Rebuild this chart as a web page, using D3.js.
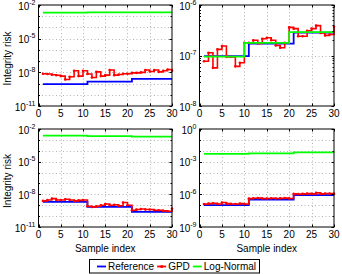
<!DOCTYPE html>
<html>
<head>
<meta charset="utf-8">
<script src="https://cdn.jsdelivr.net/npm/d3@7"></script>
<style>
  body { margin: 0; background: #fff; }
  svg { display: block; font-family: "Liberation Sans", Arial, sans-serif; }
</style>
</head>
<body>
<div id="chart"></div>
<script>
// sample index (x) and axis ticks
var sampleIdx = [1, 2, 3, 4, 5, 6, 7, 8, 9, 10, 11, 12, 13, 14, 15, 16, 17, 18, 19, 20, 21, 22, 23, 24, 25, 26, 27, 28, 29, 30];
var xTicks = [0, 5, 10, 15, 20, 25, 30];

// top left
var refTL = [9e-10, 9e-10, 9e-10, 9e-10, 9e-10, 9e-10, 9e-10, 9e-10, 9e-10, 9e-10, 1.5e-9, 1.5e-9, 1.5e-9, 1.5e-9, 1.5e-9, 1.5e-9, 1.5e-9, 1.5e-9, 1.5e-9, 1.5e-9, 2.6e-9, 2.6e-9, 2.6e-9, 2.6e-9, 2.6e-9, 2.6e-9, 2.6e-9, 2.6e-9, 2.6e-9, 2.6e-9];
var gpdTL = [7.4e-9, 7e-9, 6e-9, 5.5e-9, 4.6e-9, 2.3e-9, 4e-9, 1.4e-8, 4.6e-9, 1.4e-8, 7e-9, 3.5e-9, 1.1e-8, 4.6e-9, 5.6e-9, 1.6e-8, 5.6e-9, 6.5e-9, 7.4e-9, 7.4e-9, 9e-9, 9e-9, 1e-8, 1.6e-8, 1.2e-8, 1.6e-8, 1.1e-8, 1.4e-8, 1.8e-8, 1.4e-8];
var lnTL = [2.1e-3, 2.1e-3, 2.1e-3, 2.1e-3, 2.1e-3, 2.1e-3, 2.1e-3, 2.1e-3, 2.1e-3, 2.1e-3, 2.2e-3, 2.2e-3, 2.2e-3, 2.2e-3, 2.2e-3, 2.2e-3, 2.2e-3, 2.2e-3, 2.2e-3, 2.2e-3, 2.2e-3, 2.2e-3, 2.2e-3, 2.2e-3, 2.2e-3, 2.2e-3, 2.2e-3, 2.2e-3, 2.2e-3, 2.2e-3];

// top right
var refTR = [9.7e-8, 9.7e-8, 9.7e-8, 9.7e-8, 9.7e-8, 9.7e-8, 9.7e-8, 9.7e-8, 9.7e-8, 9.7e-8, 1.72e-7, 1.72e-7, 1.72e-7, 1.72e-7, 1.72e-7, 1.72e-7, 1.72e-7, 1.72e-7, 1.72e-7, 1.72e-7, 2.85e-7, 2.85e-7, 2.85e-7, 2.85e-7, 2.85e-7, 2.85e-7, 2.85e-7, 2.85e-7, 2.85e-7, 2.85e-7];
var gpdTR = [7.7e-8, 1.13e-7, 5.7e-8, 1.32e-7, 1.54e-7, 9.4e-8, 9.4e-8, 6.1e-8, 7.2e-8, 1.79e-7, 1.79e-7, 2.0e-7, 1.74e-7, 2.15e-7, 2.25e-7, 2.0e-7, 1.58e-7, 1.42e-7, 1.79e-7, 3.6e-7, 3.4e-7, 2.4e-7, 2.4e-7, 3.1e-7, 3.4e-7, 3.9e-7, 2.8e-7, 2.5e-7, 2.6e-7, 3.7e-7];
var lnTR = [9.5e-8, 9.5e-8, 9.5e-8, 9.5e-8, 9.5e-8, 9.5e-8, 9.5e-8, 9.5e-8, 9.5e-8, 1.78e-7, 1.78e-7, 1.78e-7, 1.78e-7, 1.78e-7, 1.78e-7, 1.78e-7, 1.78e-7, 1.78e-7, 1.78e-7, 2.9e-7, 2.9e-7, 2.9e-7, 2.9e-7, 2.9e-7, 2.9e-7, 2.9e-7, 2.9e-7, 2.9e-7, 2.9e-7, 2.9e-7];

// bottom left
var refBL = [2e-9, 2e-9, 2e-9, 2e-9, 2e-9, 2e-9, 2e-9, 2e-9, 2e-9, 2e-9, 7e-10, 7e-10, 7e-10, 7e-10, 7e-10, 7e-10, 7e-10, 7e-10, 7e-10, 7e-10, 2.5e-10, 2.5e-10, 2.5e-10, 2.5e-10, 2.5e-10, 2.5e-10, 2.5e-10, 2.5e-10, 2.5e-10, 2.5e-10];
var gpdBL = [2.5e-9, 3e-9, 4e-9, 3e-9, 3e-9, 3.5e-9, 3e-9, 2.5e-9, 2.8e-9, 3e-9, 8e-10, 7e-10, 8e-10, 1e-9, 1.3e-9, 1e-9, 1.1e-9, 9e-10, 1.8e-9, 1e-9, 3.5e-10, 4e-10, 4.5e-10, 4e-10, 4e-10, 3.5e-10, 3.5e-10, 3e-10, 2.8e-10, 5e-10];
var lnBL = [2.5e-3, 2.5e-3, 2.5e-3, 2.5e-3, 2.5e-3, 2.5e-3, 2.5e-3, 2.5e-3, 2.5e-3, 2.5e-3, 2.2e-3, 2.2e-3, 2.2e-3, 2.2e-3, 2.2e-3, 2.2e-3, 2.2e-3, 2.2e-3, 2.2e-3, 2.2e-3, 2e-3, 2e-3, 2e-3, 2e-3, 2e-3, 2e-3, 2e-3, 2e-3, 2e-3, 2e-3];

// bottom right
var refBR = [1e-7, 1e-7, 1e-7, 1e-7, 1e-7, 1e-7, 1e-7, 1e-7, 1e-7, 1e-7, 3.3e-7, 3.3e-7, 3.3e-7, 3.3e-7, 3.3e-7, 3.3e-7, 3.3e-7, 3.3e-7, 3.3e-7, 3.3e-7, 8.3e-7, 8.3e-7, 8.3e-7, 8.3e-7, 8.3e-7, 8.3e-7, 8.3e-7, 8.3e-7, 8.3e-7, 8.3e-7];
var gpdBR = [1.3e-7, 1.4e-7, 1.5e-7, 1.3e-7, 1.8e-7, 1.4e-7, 1.3e-7, 1.3e-7, 1.4e-7, 1.3e-7, 4e-7, 4.3e-7, 4.5e-7, 4.1e-7, 4.2e-7, 4.4e-7, 4.1e-7, 4.3e-7, 4.5e-7, 4.2e-7, 1.1e-6, 1.05e-6, 1.1e-6, 1.15e-6, 1.1e-6, 1.35e-6, 1.1e-6, 1.2e-6, 1.15e-6, 1.1e-6];
var lnBR = [5.1e-3, 5.1e-3, 5.1e-3, 5.1e-3, 5.1e-3, 5.1e-3, 5.1e-3, 5.1e-3, 5.1e-3, 5.1e-3, 5.8e-3, 5.8e-3, 5.8e-3, 5.8e-3, 5.8e-3, 5.8e-3, 5.8e-3, 5.8e-3, 5.8e-3, 5.8e-3, 7e-3, 7e-3, 7e-3, 7e-3, 7e-3, 7e-3, 7e-3, 7e-3, 7e-3, 7e-3];

// y tick exponents (labelled) per panel
var yLabelsTL = [-11, -8, -5, -2];
var yLabelsTR = [-8, -7, -6];
var yLabelsBL = [-11, -8, -5, -2];
var yLabelsBR = [-9, -6, -3, 0];

var seriesNames = ["Reference", "GPD", "Log-Normal"];
var seriesColors = ["#0000ff", "#ff0000", "#00ff00"];

var width = 342, height = 274;

var panels = [
  { x0: 38.5, x1: 172, y0: 5, y1: 106, ref: refTL, gpd: gpdTL, ln: lnTL, labels: yLabelsTL, ylab: true, xlab: false },
  { x0: 199.5, x1: 334, y0: 5, y1: 106, ref: refTR, gpd: gpdTR, ln: lnTR, labels: yLabelsTR, ylab: false, xlab: false },
  { x0: 38.5, x1: 172, y0: 129, y1: 227, ref: refBL, gpd: gpdBL, ln: lnBL, labels: yLabelsBL, ylab: true, xlab: true },
  { x0: 199.5, x1: 334, y0: 129, y1: 227, ref: refBR, gpd: gpdBR, ln: lnBR, labels: yLabelsBR, ylab: false, xlab: true }
];

var svg = d3
  .select("#chart")
  .append("svg")
  .attr("width", width)
  .attr("height", height)
  .attr("viewBox", [0, 0, width, height]);

panels.forEach(function (p) {
  var lo = d3.min(p.labels), hi = d3.max(p.labels);
  var x = d3.scaleLinear().domain([0, 30]).range([p.x0, p.x1]);
  var y = d3.scaleLog().domain([Math.pow(10, lo), Math.pow(10, hi)]).range([p.y1, p.y0]);
  var g = svg.append("g");

  // decades for grid / minor ticks
  var decades = d3.range(lo, hi + 1);
  var minor = [];
  if (hi - lo <= 3) {
    decades.slice(0, -1).forEach(function (e) {
      for (var m = 2; m < 10; m++) minor.push(m * Math.pow(10, e));
    });
  } else {
    decades.forEach(function (e) {
      if (p.labels.indexOf(e) < 0) minor.push(Math.pow(10, e));
    });
  }

  // grid
  g.selectAll(".hgrid")
    .data(decades.filter((e) => e !== lo && e !== hi))
    .enter()
    .append("line")
    .attr("x1", p.x0)
    .attr("x2", p.x1)
    .attr("y1", (e) => Math.round(y(Math.pow(10, e))) + 0.5)
    .attr("y2", (e) => Math.round(y(Math.pow(10, e))) + 0.5)
    .attr("stroke", "#b4b4b4")
    .attr("stroke-width", 1)
    .attr("stroke-dasharray", "1,2.5");

  g.selectAll(".vgrid")
    .data(xTicks.slice(1, -1))
    .enter()
    .append("line")
    .attr("x1", (d) => Math.round(x(d)) + 0.5)
    .attr("x2", (d) => Math.round(x(d)) + 0.5)
    .attr("y1", p.y0)
    .attr("y2", p.y1)
    .attr("stroke", "#b4b4b4")
    .attr("stroke-width", 1)
    .attr("stroke-dasharray", "1,2.5");

  // series: Reference, GPD, Log-Normal (stairs)
  var stairs = d3
    .line()
    .x((d) => x(d[0]))
    .y((d) => y(d[1]))
    .curve(d3.curveStepAfter);

  [p.ref, p.gpd, p.ln].forEach(function (vals, k) {
    var pts = sampleIdx.map((s, i) => [s, vals[i]]);
    g.append("path")
      .datum(pts)
      .attr("d", stairs)
      .attr("fill", "none")
      .attr("stroke", seriesColors[k])
      .attr("stroke-width", k === 1 ? 1.6 : 1.8);
    if (k === 1) {
      g.selectAll(".mk")
        .data(pts)
        .enter()
        .append("circle")
        .attr("cx", (d) => x(d[0]))
        .attr("cy", (d) => y(d[1]))
        .attr("r", 1.3)
        .attr("fill", seriesColors[1]);
    }
  });

  // box
  g.append("rect")
    .attr("x", p.x0)
    .attr("y", p.y0)
    .attr("width", p.x1 - p.x0)
    .attr("height", p.y1 - p.y0)
    .attr("fill", "none")
    .attr("stroke", "#000")
    .attr("stroke-width", 1);

  // tick marks (inward)
  var tl = 2.5;
  xTicks.forEach(function (t) {
    var xx = Math.round(x(t)) + 0.5;
    g.append("line").attr("x1", xx).attr("x2", xx).attr("y1", p.y1).attr("y2", p.y1 - tl).attr("stroke", "#000");
    g.append("line").attr("x1", xx).attr("x2", xx).attr("y1", p.y0).attr("y2", p.y0 + tl).attr("stroke", "#000");
  });
  p.labels.forEach(function (e) {
    var yy = Math.round(y(Math.pow(10, e))) + 0.5;
    g.append("line").attr("x1", p.x0).attr("x2", p.x0 + tl).attr("y1", yy).attr("y2", yy).attr("stroke", "#000");
    g.append("line").attr("x1", p.x1).attr("x2", p.x1 - tl).attr("y1", yy).attr("y2", yy).attr("stroke", "#000");
  });
  minor.forEach(function (v) {
    var yy = Math.round(y(v)) + 0.5;
    g.append("line").attr("x1", p.x0).attr("x2", p.x0 + 1.5).attr("y1", yy).attr("y2", yy).attr("stroke", "#000");
    g.append("line").attr("x1", p.x1).attr("x2", p.x1 - 1.5).attr("y1", yy).attr("y2", yy).attr("stroke", "#000");
  });

  // x tick labels
  g.selectAll(".xl")
    .data(xTicks)
    .enter()
    .append("text")
    .attr("x", (d) => x(d))
    .attr("y", p.y1 + 11)
    .attr("text-anchor", "middle")
    .attr("font-size", "10px")
    .text((d) => d);

  // y tick labels 10^e
  var yl = g.selectAll(".yl")
    .data(p.labels)
    .enter()
    .append("text")
    .attr("x", p.x0 - 3)
    .attr("y", (e) => y(Math.pow(10, e)) + 4.5)
    .attr("text-anchor", "end")
    .attr("font-size", "10px");
  yl.append("tspan").text("10");
  yl.append("tspan")
    .attr("dy", -5)
    .attr("font-size", "7px")
    .text((e) => (e === 0 ? "0" : "-" + Math.abs(e)));

  if (p.ylab) {
    g.append("text")
      .attr("transform", "translate(11," + ((p.y0 + p.y1) / 2 + 3) + ") rotate(-90)")
      .attr("text-anchor", "middle")
      .attr("font-size", "10px")
      .text("Integrity risk");
  }
  if (p.xlab) {
    g.append("text")
      .attr("x", (p.x0 + p.x1) / 2)
      .attr("y", p.y1 + 25)
      .attr("text-anchor", "middle")
      .attr("font-size", "10px")
      .text("Sample index");
  }
});

// legend
var legend = svg.append("g");
legend.append("rect")
  .attr("x", 89.5)
  .attr("y", 259.5)
  .attr("width", 170)
  .attr("height", 13.5)
  .attr("fill", "#fff")
  .attr("stroke", "#000");

var lx = 97, ly = 266.5;
seriesNames.forEach(function (name, k) {
  legend.append("line")
    .attr("x1", lx)
    .attr("x2", lx + 9)
    .attr("y1", ly)
    .attr("y2", ly)
    .attr("stroke", seriesColors[k])
    .attr("stroke-width", 1.8);
  if (k === 1) {
    legend.append("circle").attr("cx", lx + 4.5).attr("cy", ly).attr("r", 1.6).attr("fill", seriesColors[1]);
  }
  var t = legend.append("text")
    .attr("x", lx + 11)
    .attr("y", ly + 3.5)
    .attr("font-size", "10px")
    .text(name);
  lx = lx + 11 + t.node().getComputedTextLength() + 3;
});
</script>
</body>
</html>
